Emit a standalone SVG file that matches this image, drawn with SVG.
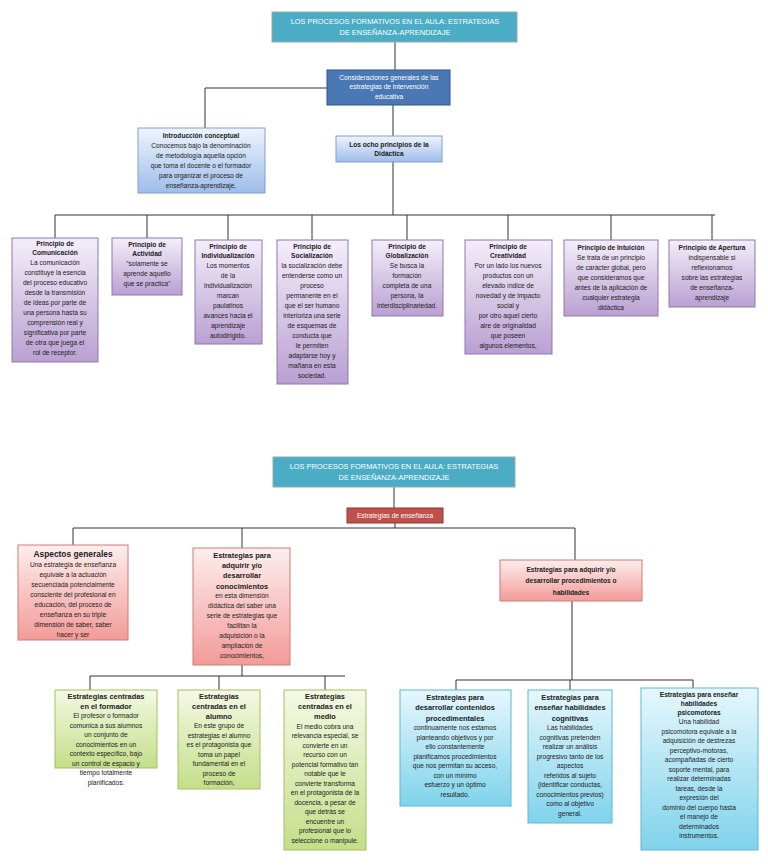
<svg xmlns="http://www.w3.org/2000/svg" width="768" height="866" viewBox="0 0 768 866">
<defs>
<linearGradient id="gP" x1="0" y1="0" x2="0" y2="1"><stop offset="0" stop-color="#f4eefa"/><stop offset="1" stop-color="#b9a0d2"/></linearGradient>
<linearGradient id="gB" x1="0" y1="0" x2="0" y2="1"><stop offset="0" stop-color="#eef4fd"/><stop offset="1" stop-color="#9ebde9"/></linearGradient>
<linearGradient id="gR" x1="0" y1="0" x2="0" y2="1"><stop offset="0" stop-color="#fdeeee"/><stop offset="1" stop-color="#f29b98"/></linearGradient>
<linearGradient id="gG" x1="0" y1="0" x2="0" y2="1"><stop offset="0" stop-color="#f4f9e4"/><stop offset="1" stop-color="#c4de89"/></linearGradient>
<linearGradient id="gC" x1="0" y1="0" x2="0" y2="1"><stop offset="0" stop-color="#e6f7fc"/><stop offset="1" stop-color="#7fd3ec"/></linearGradient>
</defs>
<style>
text{font-family:"Liberation Sans",Arial,sans-serif;font-size:6.6px;fill:#222;text-anchor:middle}
.b{font-weight:bold}
.w{fill:#fff}
.tt{fill:#fff;font-size:7.4px}
.p{fill:url(#gP);stroke:#8f78ad;stroke-width:1}
.lb{fill:url(#gB);stroke:#7f9fd0;stroke-width:1}
.r{fill:url(#gR);stroke:#d07a78;stroke-width:1}
.g{fill:url(#gG);stroke:#a6c064;stroke-width:1}
.c{fill:url(#gC);stroke:#5fb7d0;stroke-width:1}
.t{fill:#4bacc6;stroke:#9aa;stroke-width:1}
.con{fill:none;stroke:#333;stroke-width:1}
</style>
<rect width="768" height="866" fill="#fff"/>
<g id="connectors" class="con">
<path d="M395 42V70M327 88H205V128M393 105V136M393 162V215M55 215H715M55 215V238M147 215V238M228 215V240M312 215V240M407 215V240M508 215V240M611 215V240M712 215V240"/>
<path d="M394 487V508M395 523V528M73 528H575M73 528V545M242 528V548M575 528V560M242 665V676M90 676H345M90 676V690M219 676V690M325 676V690M572 601V680M456 680H693M456 680V690M570 680V690M693 680V688"/>
</g>
<g id="title1"><rect class="t" x="272" y="12" width="245" height="30"/><text class="tt" x="395" y="24">LOS PROCESOS FORMATIVOS EN EL AULA: ESTRATEGIAS</text><text class="tt" x="395" y="35">DE ENSEÑANZA-APRENDIZAJE</text></g>
<g id="consideraciones"><rect x="327" y="70" width="123" height="35" fill="#4a78b5" stroke="#2f528f"/><text class="w" x="389" y="80">Consideraciones generales de las</text><text class="w" x="389" y="89">estrategias de intervención</text><text class="w" x="389" y="99">educativa</text></g>
<g id="introduccion"><rect class="lb" x="138" y="128" width="127" height="65"/><text class="b" x="201" y="138">Introducción conceptual</text><text x="201" y="148">Conocemos bajo la denominación</text><text x="201" y="158">de metodología aquella opción</text><text x="201" y="168">que toma el docente o el formador</text><text x="201" y="178">para organizar el proceso de</text><text x="201" y="188">enseñanza-aprendizaje,</text></g>
<g id="ocho"><rect class="lb" x="336" y="136" width="106" height="26"/><text class="b" x="389" y="147">Los ocho principios de la</text><text class="b" x="389" y="156">Didáctica</text></g>
<g id="comunicacion"><rect class="p" x="12" y="238" width="86" height="124"/><text x="55" y="246"><tspan class="b">Principio de</tspan><tspan class="b" x="55" dy="9">Comunicación</tspan><tspan x="55" dy="10">La comunicación</tspan><tspan x="55" dy="10">constituye la esencia</tspan><tspan x="55" dy="10">del proceso educativo</tspan><tspan x="55" dy="10">desde la transmisión</tspan><tspan x="55" dy="10">de ideas por parte de</tspan><tspan x="55" dy="10">una persona hasta su</tspan><tspan x="55" dy="10">comprensión real y</tspan><tspan x="55" dy="10">significativa por parte</tspan><tspan x="55" dy="10">de otra que juega el</tspan><tspan x="55" dy="10">rol de receptor.</tspan></text></g>
<g id="actividad"><rect class="p" x="112" y="238" width="70" height="57"/><text x="147" y="247"><tspan class="b">Principio de</tspan><tspan class="b" x="147" dy="9">Actividad</tspan><tspan x="147" dy="10">"solamente se</tspan><tspan x="147" dy="10">aprende aquello</tspan><tspan x="147" dy="10">que se practica"</tspan></text></g>
<g id="individualizacion"><rect class="p" x="195" y="240" width="67" height="104"/><text x="228" y="249"><tspan class="b">Principio de</tspan><tspan class="b" x="228" dy="9">Individualización</tspan><tspan x="228" dy="10">Los momentos</tspan><tspan x="228" dy="10">de la</tspan><tspan x="228" dy="10">individualización</tspan><tspan x="228" dy="10">marcan</tspan><tspan x="228" dy="10">paulatinos</tspan><tspan x="228" dy="10">avances hacia el</tspan><tspan x="228" dy="10">aprendizaje</tspan><tspan x="228" dy="10">autodirigido.</tspan></text></g>
<g id="socializacion"><rect class="p" x="277" y="240" width="71" height="144"/><text x="312" y="249"><tspan class="b">Principio de</tspan><tspan class="b" x="312" dy="9">Socialización</tspan><tspan x="312" dy="10">la socialización debe</tspan><tspan x="312" dy="10">entenderse como un</tspan><tspan x="312" dy="10">proceso</tspan><tspan x="312" dy="10">permanente en el</tspan><tspan x="312" dy="10">que el ser humano</tspan><tspan x="312" dy="10">interioriza una serie</tspan><tspan x="312" dy="10">de esquemas de</tspan><tspan x="312" dy="10">conducta que</tspan><tspan x="312" dy="10">le permiten</tspan><tspan x="312" dy="10">adaptarse hoy y</tspan><tspan x="312" dy="10">mañana en esta</tspan><tspan x="312" dy="10">sociedad.</tspan></text></g>
<g id="globalizacion"><rect class="p" x="372" y="240" width="71" height="76"/><text x="407" y="249"><tspan class="b">Principio de</tspan><tspan class="b" x="407" dy="9">Globalización</tspan><tspan x="407" dy="10">Se busca la</tspan><tspan x="407" dy="10">formación</tspan><tspan x="407" dy="10">completa de una</tspan><tspan x="407" dy="10">persona, la</tspan><tspan x="407" dy="10">interdisciplinariedad.</tspan></text></g>
<g id="creatividad"><rect class="p" x="465" y="240" width="87" height="114"/><text x="508" y="249"><tspan class="b">Principio de</tspan><tspan class="b" x="508" dy="9">Creatividad</tspan><tspan x="508" dy="10">Por un lado los nuevos</tspan><tspan x="508" dy="10">productos con un</tspan><tspan x="508" dy="10">elevado índice de</tspan><tspan x="508" dy="10">novedad y de impacto</tspan><tspan x="508" dy="10">social y</tspan><tspan x="508" dy="10">por otro aquel cierto</tspan><tspan x="508" dy="10">aire de originalidad</tspan><tspan x="508" dy="10">que poseen</tspan><tspan x="508" dy="10">algunos elementos,</tspan></text></g>
<g id="intuicion"><rect class="p" x="564" y="240" width="94" height="76"/><text x="611" y="250"><tspan class="b">Principio de Intuición</tspan><tspan x="611" dy="10">Se trata de un principio</tspan><tspan x="611" dy="10">de carácter global, pero</tspan><tspan x="611" dy="10">que consideramos que</tspan><tspan x="611" dy="10">antes de la aplicación de</tspan><tspan x="611" dy="10">cualquier estrategia</tspan><tspan x="611" dy="10">didáctica</tspan></text></g>
<g id="apertura"><rect class="p" x="669" y="240" width="86" height="67"/><text x="712" y="250"><tspan class="b">Principio de Apertura</tspan><tspan x="712" dy="10">indispensable si</tspan><tspan x="712" dy="10">reflexionamos</tspan><tspan x="712" dy="10">sobre las estrategias</tspan><tspan x="712" dy="10">de enseñanza-</tspan><tspan x="712" dy="10">aprendizaje</tspan></text></g>
<g id="title2"><rect class="t" x="273" y="457" width="242" height="30"/><text class="tt" x="394" y="469">LOS PROCESOS FORMATIVOS EN EL AULA: ESTRATEGIAS</text><text class="tt" x="394" y="480">DE ENSEÑANZA-APRENDIZAJE</text></g>
<g id="ensenanza"><rect x="347" y="508" width="96" height="15" fill="#c0504d" stroke="#8c3836"/><text class="w" x="395" y="518">Estrategias de enseñanza</text></g>
<g id="aspectos"><rect class="r" x="18" y="545" width="110" height="95"/><text x="73" y="557"><tspan class="b" font-size="8.4">Aspectos generales</tspan><tspan x="73" dy="10">Una estrategia de enseñanza</tspan><tspan x="73" dy="10">equivale a la actuación</tspan><tspan x="73" dy="10">secuenciada potencialmente</tspan><tspan x="73" dy="10">consciente del profesional en</tspan><tspan x="73" dy="10">educación, del proceso de</tspan><tspan x="73" dy="10">enseñanza en su triple</tspan><tspan x="73" dy="10">dimensión de saber, saber</tspan><tspan x="73" dy="10">hacer y ser</tspan></text></g>
<g id="conocimientos"><rect class="r" x="193" y="548" width="97" height="117"/><text x="242" y="558"><tspan class="b" font-size="7.4">Estrategias para</tspan><tspan class="b" font-size="7.4" x="242" dy="10">adquirir y/o</tspan><tspan class="b" font-size="7.4" x="242" dy="10">desarrollar</tspan><tspan class="b" font-size="7.4" x="242" dy="11">conocimientos</tspan><tspan x="242" dy="9">en esta dimensión</tspan><tspan x="242" dy="10">didáctica del saber una</tspan><tspan x="242" dy="10">serie de estrategias que</tspan><tspan x="242" dy="10">facilitan la</tspan><tspan x="242" dy="10">adquisición o la</tspan><tspan x="242" dy="10">ampliación de</tspan><tspan x="242" dy="10">conocimientos,</tspan></text></g>
<g id="procedimientos"><rect class="r" x="500" y="560" width="142" height="41"/><text class="b" font-size="8" x="571" y="572">Estrategias para adquirir y/o</text><text class="b" font-size="8" x="571" y="583">desarrollar procedimientos o</text><text class="b" font-size="8" x="571" y="595">habilidades</text></g>
<g id="formador"><rect class="g" x="55" y="690" width="102" height="78"/><text x="106" y="699"><tspan class="b" font-size="7.4">Estrategias centradas</tspan><tspan class="b" font-size="7.4" x="106" dy="10">en el formador</tspan><tspan x="106" dy="9">El profesor o formador</tspan><tspan x="106" dy="9.5">comunica a sus alumnos</tspan><tspan x="106" dy="9.5">un conjunto de</tspan><tspan x="106" dy="9.5">conocimientos en un</tspan><tspan x="106" dy="9.5">contexto específico, bajo</tspan><tspan x="106" dy="9.5">un control de espacio y</tspan><tspan x="106" dy="9.5">tiempo totalmente</tspan><tspan x="106" dy="9.5">planificados.</tspan></text></g>
<g id="alumno"><rect class="g" x="178" y="690" width="82" height="99"/><text x="219" y="699"><tspan class="b" font-size="7.4">Estrategias</tspan><tspan class="b" font-size="7.4" x="219" dy="10">centradas en el</tspan><tspan class="b" font-size="7.4" x="219" dy="10">alumno</tspan><tspan x="219" dy="9">En este grupo de</tspan><tspan x="219" dy="9.5">estrategias el alumno</tspan><tspan x="219" dy="9.5">es el protagonista que</tspan><tspan x="219" dy="9.5">toma un papel</tspan><tspan x="219" dy="9.5">fundamental en el</tspan><tspan x="219" dy="9.5">proceso de</tspan><tspan x="219" dy="9.5">formación,</tspan></text></g>
<g id="medio"><rect class="g" x="284" y="690" width="82" height="160"/><text x="325" y="699"><tspan class="b" font-size="7.4">Estrategias</tspan><tspan class="b" font-size="7.4" x="325" dy="10">centradas en el</tspan><tspan class="b" font-size="7.4" x="325" dy="10">medio</tspan><tspan x="325" dy="9.5">El medio cobra una</tspan><tspan x="325" dy="9.5">relevancia especial, se</tspan><tspan x="325" dy="9.5">convierte en un</tspan><tspan x="325" dy="9.5">recurso con un</tspan><tspan x="325" dy="9.5">potencial formativo tan</tspan><tspan x="325" dy="9.5">notable que le</tspan><tspan x="325" dy="9.5">convierte transforma</tspan><tspan x="325" dy="9.5">en el protagonista de la</tspan><tspan x="325" dy="9.5">docencia, a pesar de</tspan><tspan x="325" dy="9.5">que detrás se</tspan><tspan x="325" dy="9.5">encuentre un</tspan><tspan x="325" dy="9.5">profesional que lo</tspan><tspan x="325" dy="9.5">seleccione o manipule.</tspan></text></g>
<g id="procedimentales"><rect class="c" x="400" y="690" width="111" height="116"/><text x="455" y="700"><tspan class="b" font-size="7.4">Estrategias para</tspan><tspan class="b" font-size="7.4" x="455" dy="10">desarrollar contenidos</tspan><tspan class="b" font-size="7.4" x="455" dy="11">procedimentales</tspan><tspan x="455" dy="9">continuamente nos estamos</tspan><tspan x="455" dy="9.5">planteando objetivos y por</tspan><tspan x="455" dy="9.5">ello constantemente</tspan><tspan x="455" dy="9.5">planificamos procedimientos</tspan><tspan x="455" dy="9.5">que nos permitan su acceso,</tspan><tspan x="455" dy="9.5">con un mínimo</tspan><tspan x="455" dy="9.5">esfuerzo y un óptimo</tspan><tspan x="455" dy="9.5">resultado.</tspan></text></g>
<g id="cognitivas"><rect class="c" x="528" y="690" width="84" height="133"/><text x="570" y="700"><tspan class="b" font-size="7.4">Estrategias para</tspan><tspan class="b" font-size="7.4" x="570" dy="10">enseñar habilidades</tspan><tspan class="b" font-size="7.4" x="570" dy="11">cognitivas</tspan><tspan x="570" dy="9">Las habilidades</tspan><tspan x="570" dy="9.5">cognitivas pretenden</tspan><tspan x="570" dy="9.5">realizar un análisis</tspan><tspan x="570" dy="9.5">progresivo tanto de los</tspan><tspan x="570" dy="9.5">aspectos</tspan><tspan x="570" dy="9.5">referidos al sujeto</tspan><tspan x="570" dy="9.5">(identificar conductas,</tspan><tspan x="570" dy="9.5">conocimientos previos)</tspan><tspan x="570" dy="9.5">como al objetivo</tspan><tspan x="570" dy="9.5">general.</tspan></text></g>
<g id="psicomotoras"><rect class="c" x="641" y="688" width="117" height="162"/><text x="699" y="697"><tspan class="b">Estrategias para enseñar</tspan><tspan class="b" x="699" dy="9">habilidades</tspan><tspan class="b" x="699" dy="9">psicomotoras</tspan><tspan x="699" dy="9">Una habilidad</tspan><tspan x="699" dy="9.5">psicomotora equivale a la</tspan><tspan x="699" dy="9.5">adquisición de destrezas</tspan><tspan x="699" dy="9.5">perceptivo-motoras,</tspan><tspan x="699" dy="9.5">acompañadas de cierto</tspan><tspan x="699" dy="9.5">soporte mental, para</tspan><tspan x="699" dy="9.5">realizar determinadas</tspan><tspan x="699" dy="9.5">tareas, desde la</tspan><tspan x="699" dy="9.5">expresión del</tspan><tspan x="699" dy="9.5">dominio del cuerpo hasta</tspan><tspan x="699" dy="9.5">el manejo de</tspan><tspan x="699" dy="9.5">determinados</tspan><tspan x="699" dy="9.5">instrumentos.</tspan></text></g>
</svg>
